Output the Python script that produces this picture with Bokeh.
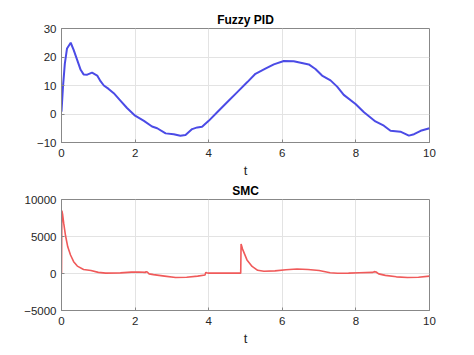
from bokeh.plotting import figure
from bokeh.layouts import column
from bokeh.models import FixedTicker, Range1d
from bokeh.embed import file_html
from bokeh.resources import INLINE

# Fuzzy PID series
fz_t = [0, 0.04, 0.09, 0.15, 0.25, 0.33, 0.43, 0.52, 0.6, 0.7, 0.83, 0.97, 1.06, 1.15, 1.28, 1.42,
        1.6, 1.78, 2.0, 2.24, 2.46, 2.6, 2.83, 3.05, 3.23, 3.37, 3.55, 3.69, 3.82, 4.0, 4.23,
        4.5, 4.77, 5.05, 5.27, 5.54, 5.77, 6.04, 6.31, 6.72, 6.9, 7.08, 7.31, 7.49, 7.67,
        7.99, 8.22, 8.53, 8.76, 8.94, 9.21, 9.44, 9.58, 9.76, 10]
fz_v = [0.8, 9.5, 17.6, 23.0, 25.0, 22.5, 18.8, 15.5, 13.9, 13.8, 14.5, 13.5, 11.5, 10.0, 8.8, 7.3,
        4.7, 2.1, -0.6, -2.4, -4.4, -5.0, -6.8, -7.1, -7.6, -7.4, -5.3, -4.7, -4.5, -2.4, 0.6,
        4.1, 7.6, 11.2, 14.1, 15.9, 17.4, 18.6, 18.5, 17.4, 15.8, 13.5, 11.8, 9.6, 6.7,
        3.5, 0.6, -2.6, -4.1, -5.9, -6.2, -7.6, -7.1, -5.9, -5.0]

# SMC series
smc_t = [0, 0.01, 0.03, 0.06, 0.11, 0.17, 0.245, 0.33, 0.43, 0.6, 0.8, 1.0, 1.2, 1.6, 1.9, 2.1,
         2.28, 2.3, 2.33, 2.38, 2.5, 2.8, 3.1, 3.4, 3.7, 3.9, 3.92, 3.95, 4.0, 4.3, 4.6, 4.87,
         4.88, 4.92, 5.04, 5.18, 5.33, 5.5, 5.8, 6.1, 6.4, 6.7, 7.0, 7.3, 7.5, 7.8, 8.1,
         8.45, 8.5, 8.55, 8.62, 8.8, 9.1, 9.4, 9.7, 10]
smc_v = [0, 8500, 8000, 6800, 5100, 3600, 2500, 1600, 1000, 550, 400, 150, 50, 80, 180, 200,
         150, 250, 200, -50, -150, -350, -550, -500, -350, -200, 150, 100, 50, 50, 50, 50,
         4000, 3300, 1840, 960, 430, 300, 350, 500, 600, 550, 400, 100, 30, 50, 100,
         150, 250, 200, -50, -250, -450, -550, -500, -350]

x_ticks = [0, 2, 4, 6, 8, 10]
fz_ticks = [-10, 0, 10, 20, 30]
smc_ticks = [-5000, 0, 5000, 10000]

FONT = "Liberation Sans"


def make_fig(title, height, top, bottom, yr, yticks, standoff):
    p = figure(width=474, height=height, output_backend="svg", toolbar_location=None,
               x_range=Range1d(0, 10), y_range=Range1d(*yr),
               min_border_left=61, min_border_right=45,
               min_border_top=top, min_border_bottom=bottom)
    p.title.text = title
    p.title.align = "center"
    p.title.text_font = FONT
    p.title.text_font_size = "12px"
    p.title.text_font_style = "bold"
    p.title.text_color = "#000000"
    p.title.standoff = standoff
    p.outline_line_color = "#888888"
    p.outline_line_width = 1
    p.outline_line_alpha = 1
    p.background_fill_color = "white"
    p.border_fill_color = "white"
    for ax in (p.xaxis[0], p.yaxis[0]):
        ax.axis_line_color = "#888888"
        ax.major_tick_line_color = "#888888"
        ax.major_tick_in = 3
        ax.major_tick_out = 0
        ax.minor_tick_line_color = None
        ax.major_label_text_font = FONT
        ax.major_label_text_font_size = "11.5px"
        ax.major_label_text_color = "#262626"
        ax.major_label_standoff = 5
    p.xaxis.major_label_standoff = 6
    p.xaxis.ticker = FixedTicker(ticks=x_ticks)
    p.yaxis.ticker = FixedTicker(ticks=yticks)
    p.xaxis.axis_label = "t"
    p.xaxis.axis_label_text_font = FONT
    p.xaxis.axis_label_text_font_size = "13px"
    p.xaxis.axis_label_text_font_style = "normal"
    p.xaxis.axis_label_text_color = "#262626"
    p.xaxis.axis_label_standoff = 3
    p.grid.grid_line_color = "#e3e3e3"
    p.grid.grid_line_width = 1
    return p


p1 = make_fig("Fuzzy PID", 180, 28, 38, (-10, 30), fz_ticks, 4)
p1.line(fz_t, fz_v, line_color="#4b4be6", line_width=2)

p2 = make_fig("SMC", 175, 17, 45, (-5000, 10000), smc_ticks, 3)
p2.line(smc_t, smc_v, line_color="#f05a5a", line_width=1.6)

layout = column(p1, p2, spacing=0)
open("out.html", "w").write(file_html(layout, INLINE))
